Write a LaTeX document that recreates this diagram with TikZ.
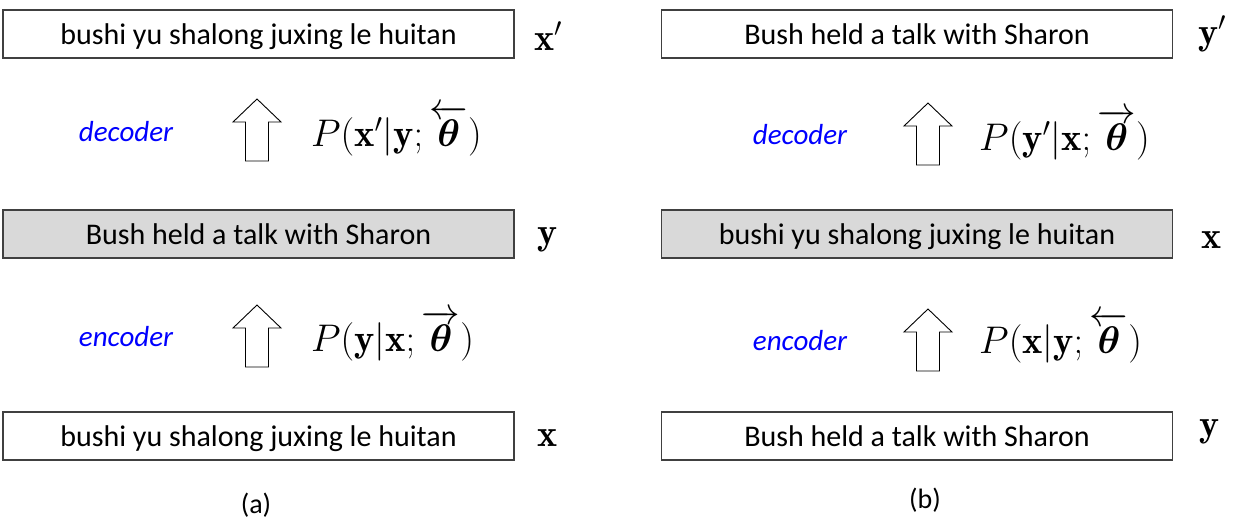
\RequirePackage{fix-cm}
\documentclass[tikz,border=0pt]{standalone}
\usepackage{amsmath}
\usepackage{fontspec}
\newfontfamily\calibri{Carlito}
\definecolor{boxgray}{HTML}{D9D9D9}
\definecolor{edgegray}{HTML}{404040}
\tikzset{
  sentbox/.style={draw=edgegray, line width=1.1pt, minimum width=511pt, minimum height=48pt, inner sep=0pt,
    text height=27pt, text depth=6pt, font=\calibri\fontsize{30}{36}\selectfont},
  grayfill/.style={fill=boxgray},
  varlabel/.style={font=\fontsize{38}{44}\selectfont, inner sep=0pt},
  rolelabel/.style={text=blue, font=\calibri\itshape\fontsize{29}{34}\selectfont, inner sep=0pt},
  problabel/.style={anchor=base west, font=\fontsize{38.5}{44}\selectfont, inner sep=0pt},
  caplabel/.style={font=\calibri\fontsize{28}{34}\selectfont, inner sep=0pt},
  blockarrow/.pic={\draw[line width=0.9pt, fill=white] (-11.5,31) -- (-11.5,-8) -- (-24,-8) -- (0,-31) -- (24,-8) -- (11.5,-8) -- (11.5,31) -- cycle;}
}
\begin{document}
\begin{tikzpicture}[x=1pt, y=-1pt]
\useasboundingbox (0,0) rectangle (1238,524);
% ---- panel (a)
\node[sentbox] (a3) at (258.5,34) {bushi yu shalong juxing le huitan};
\node[sentbox, grayfill] (a2) at (258.5,234) {Bush held a talk with Sharon};
\node[sentbox] (a1) at (258.5,436) {bushi yu shalong juxing le huitan};
\node[varlabel] (ax3) at (548,36) {$\mathbf{x}'$};
\node[varlabel] (ay2) at (548,240) {$\mathbf{y}$};
\node[varlabel] (ax1) at (548,438) {$\mathbf{x}$};
\node[rolelabel] (adec) at (126,132) {decoder};
\node[rolelabel] (aenc) at (126,337) {encoder};
\pic at (257,130) {blockarrow};
\pic at (257,336) {blockarrow};
\node[problabel] (ap2) at (311,146) {$P(\mathbf{x}'|\mathbf{y};\overleftarrow{\boldsymbol{\theta}})$};
\node[problabel] (ap1) at (311,351) {$P(\mathbf{y}|\mathbf{x};\overrightarrow{\boldsymbol{\theta}})$};
\node[caplabel] (acap) at (256,505) {(a)};
% ---- panel (b)
\node[sentbox] (b3) at (917,34) {Bush held a talk with Sharon};
\node[sentbox, grayfill] (b2) at (917,234) {bushi yu shalong juxing le huitan};
\node[sentbox] (b1) at (917,436) {Bush held a talk with Sharon};
\node[varlabel] (by3) at (1212,34) {$\mathbf{y}'$};
\node[varlabel] (bx2) at (1212,240) {$\mathbf{x}$};
\node[varlabel] (by1) at (1210,432) {$\mathbf{y}$};
\node[rolelabel] (bdec) at (800,135) {decoder};
\node[rolelabel] (benc) at (800,341) {encoder};
\pic at (928,134) {blockarrow};
\pic at (928,340) {blockarrow};
\node[problabel] (bp2) at (979,150) {$P(\mathbf{y}'|\mathbf{x};\overrightarrow{\boldsymbol{\theta}})$};
\node[problabel] (bp1) at (979,353) {$P(\mathbf{x}|\mathbf{y};\overleftarrow{\boldsymbol{\theta}})$};
\node[caplabel] (bcap) at (925,500) {(b)};
\end{tikzpicture}
\end{document}
